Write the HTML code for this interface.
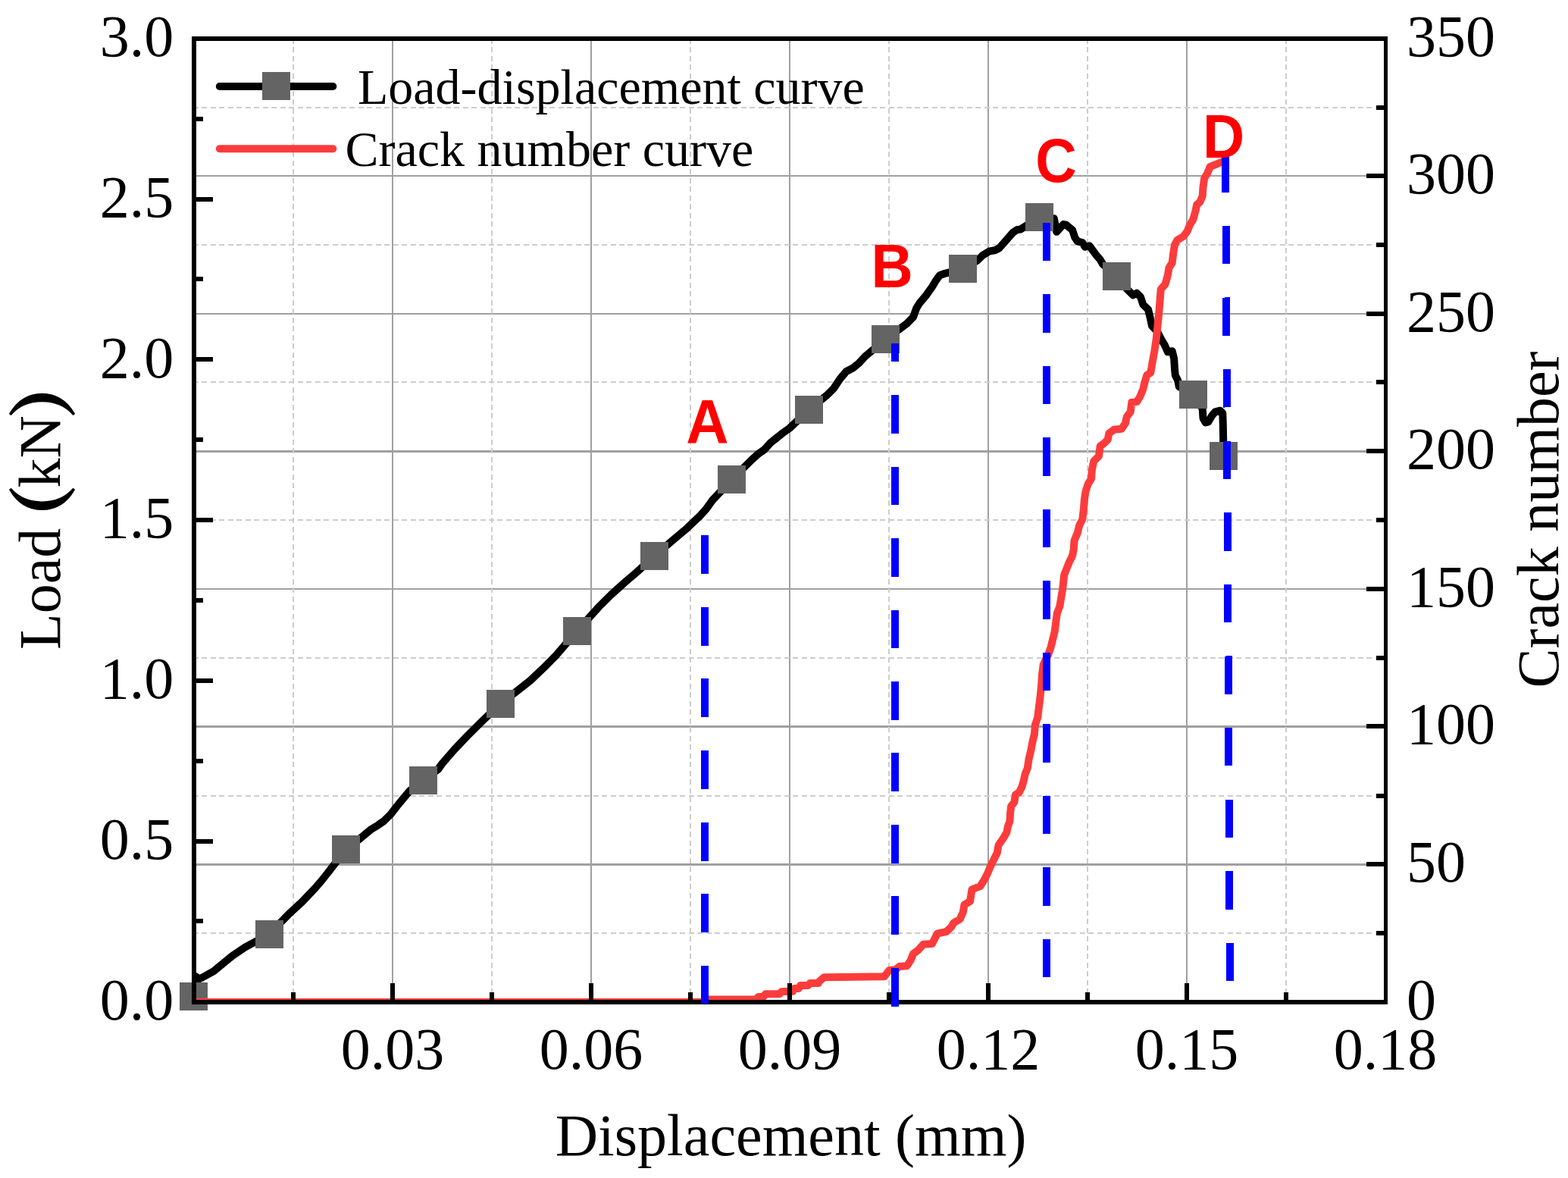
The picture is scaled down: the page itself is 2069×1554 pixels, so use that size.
<!DOCTYPE html>
<html lang="en"><head><meta charset="utf-8"><title>Load-displacement curve and crack number curve</title>
<style>html,body{margin:0;padding:0;background:#fff;overflow:hidden}svg{display:block}text{font-family:"Liberation Serif",serif;fill:#000}.lab{font-family:"Liberation Sans",sans-serif;font-weight:bold;fill:#ff0000}.par{font-family:"Liberation Serif","Noto Serif CJK SC",serif;font-weight:900;stroke:#000;stroke-width:1.6px}</style></head><body>
<svg width="2069" height="1554" viewBox="0 0 2069 1554">
<defs><clipPath id="plot"><rect x="256" y="51" width="1572" height="1271"/></clipPath></defs>
<rect x="0" y="0" width="2069" height="1554" fill="#fff"/>
<g shape-rendering="crispEdges">
<g fill="#a0a0a0">
<rect x="517" y="54" width="2" height="1265"/>
<rect x="779" y="54" width="2" height="1265"/>
<rect x="1041" y="54" width="2" height="1265"/>
<rect x="1303" y="54" width="2" height="1265"/>
<rect x="1565" y="54" width="2" height="1265"/>
<rect x="259" y="1139" width="1567" height="3"/>
<rect x="259" y="957" width="1567" height="3"/>
<rect x="259" y="776" width="1567" height="2"/>
<rect x="259" y="594" width="1567" height="3"/>
<rect x="259" y="413" width="1567" height="2"/>
<rect x="259" y="231" width="1567" height="2"/>
</g>
<g fill="none" stroke="#cdcdcd" stroke-width="2" stroke-dasharray="7 4.47">
<line x1="387" y1="50.5" x2="387" y2="1319" stroke-dasharray="7 4.5"/>
<line x1="649" y1="50.5" x2="649" y2="1319" stroke-dasharray="7 4.5"/>
<line x1="911" y1="50.5" x2="911" y2="1319" stroke-dasharray="7 4.5"/>
<line x1="1173" y1="50.5" x2="1173" y2="1319" stroke-dasharray="7 4.5"/>
<line x1="1435" y1="50.5" x2="1435" y2="1319" stroke-dasharray="7 4.5"/>
<line x1="1697" y1="50.5" x2="1697" y2="1319" stroke-dasharray="7 4.5"/>
<line x1="255" y1="1231" x2="1826" y2="1231"/>
<line x1="255" y1="1050" x2="1826" y2="1050"/>
<line x1="255" y1="868" x2="1826" y2="868"/>
<line x1="255" y1="686" x2="1826" y2="686"/>
<line x1="255" y1="504" x2="1826" y2="504"/>
<line x1="255" y1="323" x2="1826" y2="323"/>
<line x1="255" y1="142" x2="1826" y2="142"/>
</g>
</g>
<polyline points="258.0,1315.0 258.0,1288.0 262.5,1291.5 266.0,1290.0 281.7,1281.3 306.7,1260.8 323.3,1249.7 355.3,1232.3 381.7,1205.3 398.3,1190.0 415.0,1172.5 423.3,1163.0 431.7,1152.5 440.0,1141.7 456.3,1120.4 475.1,1106.2 490.2,1093.7 498.6,1088.7 506.9,1082.8 515.3,1074.5 523.7,1063.6 532.0,1053.5 540.4,1043.5 558.4,1029.4 578.0,1015.0 583.3,1007.5 600.0,988.3 616.7,970.8 633.3,954.2 660.4,928.4 683.3,910.8 700.0,897.5 716.7,881.7 733.3,865.0 761.3,832.6 790.0,800.8 806.7,784.2 823.3,769.2 840.0,755.0 863.5,733.4 890.0,710.8 906.7,696.7 923.3,680.8 931.7,671.7 940.0,660.0 965.3,633.0 991.7,606.7 1000.0,599.2 1008.3,593.3 1016.7,584.2 1025.0,577.5 1033.3,570.8 1041.7,565.0 1067.1,540.9 1091.7,520.8 1100.0,512.5 1108.3,500.0 1116.7,490.0 1125.0,485.8 1133.3,479.2 1141.7,470.0 1168.3,447.8 1186.7,434.2 1196.7,426.7 1205.0,418.3 1209.2,406.7 1213.3,400.0 1221.7,390.0 1230.0,378.3 1235.0,370.0 1240.0,363.3 1246.7,360.8 1270.0,354.8 1290.0,343.3 1296.7,336.7 1305.0,331.7 1313.3,330.0 1318.3,327.5 1325.0,320.0 1330.0,314.2 1336.7,306.7 1341.7,303.3 1346.7,302.5 1353.3,298.3 1371.7,286.8 1390.8,288.3 1394.2,305.8 1403.3,295.8 1406.7,296.7 1415.0,303.3 1418.3,313.3 1421.7,318.3 1428.3,320.0 1431.7,325.8 1437.5,324.2 1441.7,330.0 1446.7,336.7 1451.7,342.5 1455.0,348.3 1473.3,364.8 1486.3,380.5 1495.0,389.3 1500.0,386.7 1505.0,391.7 1508.3,401.7 1515.0,408.3 1517.5,418.3 1520.0,430.0 1526.7,436.7 1531.7,446.7 1536.7,455.0 1540.8,464.2 1546.7,463.3 1549.2,473.3 1550.0,486.7 1550.8,495.0 1554.2,501.7 1555.8,510.0 1574.9,520.3 1586.7,539.2 1587.5,551.7 1590.8,557.5 1594.2,556.7 1599.2,548.3 1603.3,543.3 1610.0,541.7 1613.3,545.0 1613.8,560.0 1614.2,581.7 1614.5,601.3" fill="none" stroke="#000" stroke-width="10" stroke-linejoin="round" stroke-linecap="round"/>
<g fill="#646464" shape-rendering="crispEdges">
<rect x="237" y="1296" width="37" height="37"/>
<rect x="337" y="1214" width="37" height="37"/>
<rect x="438" y="1102" width="37" height="37"/>
<rect x="540" y="1011" width="37" height="37"/>
<rect x="642" y="910" width="37" height="37"/>
<rect x="743" y="814" width="37" height="37"/>
<rect x="845" y="715" width="37" height="37"/>
<rect x="947" y="614" width="37" height="37"/>
<rect x="1049" y="522" width="37" height="37"/>
<rect x="1150" y="429" width="37" height="37"/>
<rect x="1252" y="336" width="37" height="37"/>
<rect x="1353" y="268" width="37" height="37"/>
<rect x="1455" y="346" width="37" height="37"/>
<rect x="1556" y="502" width="37" height="37"/>
<rect x="1596" y="583" width="37" height="37"/>
</g>
<polyline points="256.0,1322.0 929.0,1322.0 932.0,1318.6 997.6,1318.6 1000.5,1315.1 1007.3,1315.1 1010.2,1311.2 1028.6,1311.2 1031.5,1308.0 1046.0,1308.0 1047.9,1304.1 1053.7,1304.1 1056.1,1300.0 1066.3,1300.0 1068.7,1297.1 1079.8,1297.1 1081.7,1294.0 1087.5,1289.2 1166.7,1288.3 1173.3,1280.0 1181.7,1279.2 1186.7,1275.0 1196.7,1274.2 1201.7,1266.7 1205.0,1258.3 1211.7,1253.3 1218.3,1245.8 1230.0,1245.0 1236.7,1231.7 1248.3,1229.2 1255.0,1223.3 1258.3,1217.5 1266.7,1212.5 1270.8,1203.3 1272.5,1193.3 1280.0,1189.2 1282.5,1173.3 1293.3,1169.2 1299.2,1160.0 1303.3,1151.7 1306.7,1143.3 1311.7,1133.3 1315.8,1125.0 1317.5,1115.0 1323.3,1106.7 1328.3,1098.3 1330.0,1090.0 1332.5,1083.3 1333.0,1073.3 1334.2,1063.3 1338.3,1058.3 1340.0,1048.3 1345.0,1045.0 1348.3,1038.3 1350.8,1030.0 1352.5,1021.7 1355.8,1013.3 1357.5,1001.7 1360.3,990.0 1362.5,978.3 1365.0,968.3 1365.8,956.7 1369.2,946.7 1370.8,933.3 1372.5,920.0 1374.2,903.3 1375.0,890.0 1376.7,876.7 1383.3,863.3 1386.7,853.3 1390.0,840.0 1391.7,833.3 1393.3,820.0 1395.0,808.3 1398.3,800.0 1400.0,790.0 1401.7,780.0 1403.0,770.0 1404.2,758.3 1407.5,750.0 1410.8,741.7 1415.0,733.3 1416.7,725.0 1417.5,713.3 1421.7,703.3 1424.2,693.3 1428.3,685.0 1429.7,673.3 1430.8,660.0 1432.5,648.3 1435.8,638.3 1440.0,631.7 1440.8,620.0 1443.3,608.3 1450.0,601.7 1451.7,588.3 1456.7,585.0 1461.7,580.0 1463.3,571.7 1470.0,566.7 1480.0,565.8 1485.0,558.3 1486.7,550.0 1491.7,543.3 1493.3,530.8 1500.0,530.0 1504.2,523.3 1508.3,513.3 1510.8,503.3 1513.3,495.0 1518.3,491.7 1520.8,476.7 1523.3,463.3 1525.8,446.7 1527.5,430.0 1529.2,413.3 1530.8,393.3 1531.7,381.7 1537.5,375.0 1540.8,363.3 1542.5,353.3 1546.7,346.7 1548.3,333.3 1550.0,323.3 1553.3,316.7 1561.7,311.7 1566.7,305.0 1570.0,296.7 1574.2,290.0 1577.5,278.3 1579.2,270.0 1583.3,266.7 1586.7,258.3 1587.5,246.7 1589.2,235.0 1593.3,228.3 1596.7,220.0 1605.0,216.7 1614.0,213.0" fill="none" stroke="#fc3c3c" stroke-width="10" stroke-linejoin="round" stroke-linecap="butt" clip-path="url(#plot)"/>
<g fill="#000" shape-rendering="crispEdges"><rect x="253" y="48" width="6" height="1277"/><rect x="1826" y="48" width="5" height="1277"/><rect x="253" y="48" width="1578" height="6"/><rect x="253" y="1319" width="1578" height="6"/></g>
<g fill="#000" shape-rendering="crispEdges">
<rect x="384" y="1309" width="6" height="11"/>
<rect x="515" y="1297" width="6" height="23"/>
<rect x="646" y="1309" width="6" height="11"/>
<rect x="777" y="1297" width="6" height="23"/>
<rect x="908" y="1309" width="6" height="11"/>
<rect x="1039" y="1297" width="6" height="23"/>
<rect x="1170" y="1309" width="6" height="11"/>
<rect x="1301" y="1297" width="6" height="23"/>
<rect x="1432" y="1309" width="6" height="11"/>
<rect x="1563" y="1297" width="6" height="23"/>
<rect x="1694" y="1309" width="6" height="11"/>
<rect x="258" y="1212" width="10" height="6"/>
<rect x="258" y="1107" width="23" height="6"/>
<rect x="258" y="1001" width="10" height="6"/>
<rect x="258" y="895" width="23" height="6"/>
<rect x="258" y="789" width="10" height="6"/>
<rect x="258" y="683" width="23" height="6"/>
<rect x="258" y="577" width="10" height="6"/>
<rect x="258" y="471" width="23" height="6"/>
<rect x="258" y="365" width="10" height="6"/>
<rect x="258" y="260" width="23" height="6"/>
<rect x="258" y="154" width="10" height="6"/>
<rect x="1816" y="1228" width="11" height="6"/>
<rect x="1803" y="1137" width="24" height="6"/>
<rect x="1816" y="1047" width="11" height="6"/>
<rect x="1803" y="955" width="24" height="6"/>
<rect x="1816" y="865" width="11" height="6"/>
<rect x="1803" y="774" width="24" height="6"/>
<rect x="1816" y="683" width="11" height="6"/>
<rect x="1803" y="592" width="24" height="6"/>
<rect x="1816" y="501" width="11" height="6"/>
<rect x="1803" y="411" width="24" height="6"/>
<rect x="1816" y="320" width="11" height="6"/>
<rect x="1803" y="229" width="24" height="6"/>
<rect x="1816" y="139" width="11" height="6"/>
</g>
<g stroke="#0000ff" stroke-width="10" fill="none" shape-rendering="crispEdges">
<line x1="930" y1="706" x2="930" y2="1323.8" stroke-dasharray="51 43.67" stroke-dashoffset="0"/>
<line x1="1181" y1="452.5" x2="1181" y2="1327.8" stroke-dasharray="50.7 43.75" stroke-dashoffset="25.75"/>
<line x1="1381" y1="293.8" x2="1381" y2="1289.8" stroke-dasharray="50.5 44" stroke-dashoffset="0"/>
<line x1="1617" y1="203.3" x2="1623" y2="1293.8" stroke-dasharray="50.4 44.2" stroke-dashoffset="0"/>
</g>
<g font-size="78">
<text x="229.2" y="1344.7" text-anchor="end">0.0</text>
<text x="229.2" y="1132.9" text-anchor="end">0.5</text>
<text x="229.2" y="921.1" text-anchor="end">1.0</text>
<text x="229.2" y="709.4" text-anchor="end">1.5</text>
<text x="229.2" y="497.6" text-anchor="end">2.0</text>
<text x="229.2" y="285.9" text-anchor="end">2.5</text>
<text x="229.2" y="74.2" text-anchor="end">3.0</text>
<text x="1856" y="1344.7" text-anchor="start">0</text>
<text x="1856" y="1162.9" text-anchor="start">50</text>
<text x="1856" y="980.9" text-anchor="start">100</text>
<text x="1856" y="799.9" text-anchor="start">150</text>
<text x="1856" y="617.9" text-anchor="start">200</text>
<text x="1856" y="436.9" text-anchor="start">250</text>
<text x="1856" y="254.9" text-anchor="start">300</text>
<text x="1856" y="74.2" text-anchor="start">350</text>
<text x="518.0" y="1409.6" text-anchor="middle">0.03</text>
<text x="780.0" y="1409.6" text-anchor="middle">0.06</text>
<text x="1042.0" y="1409.6" text-anchor="middle">0.09</text>
<text x="1304.0" y="1409.6" text-anchor="middle">0.12</text>
<text x="1566.0" y="1409.6" text-anchor="middle">0.15</text>
<text x="1828.0" y="1409.6" text-anchor="middle">0.18</text>
</g>
<text x="1043.6" y="1523.5" font-size="78" text-anchor="middle">Displacement (mm)</text>
<text transform="translate(79,0) rotate(-90)" font-size="78"><tspan x="-857" y="0">Load</tspan><tspan class="par" x="-729.2" y="10.5" font-size="89.5">（</tspan><tspan x="-643.5" y="0">kN</tspan><tspan class="par" x="-552" y="10.5" font-size="89.5">）</tspan></text>
<text transform="translate(2056,685.5) rotate(-90)" font-size="78" text-anchor="middle">Crack number</text>
<line x1="289.8" y1="114" x2="439.3" y2="114" stroke="#000" stroke-width="10" stroke-linecap="round"/>
<rect x="346" y="95" width="37" height="37" fill="#646464" shape-rendering="crispEdges"/>
<line x1="289.8" y1="196.2" x2="439.3" y2="196.2" stroke="#fc3c3c" stroke-width="10" stroke-linecap="round"/>
<text x="472" y="137" font-size="66">Load-displacement curve</text>
<text x="455.5" y="219.2" font-size="66">Crack number curve</text>
<text class="lab" transform="translate(933.3,583.8) scale(1.0,1.036)" font-size="78" text-anchor="middle">A</text>
<text class="lab" transform="translate(1177.0,378.8) scale(0.98,1.036)" font-size="78" text-anchor="middle">B</text>
<text class="lab" transform="translate(1393.6,239.8) scale(0.967,1.036)" font-size="78" text-anchor="middle">C</text>
<text class="lab" transform="translate(1614.5,208) scale(0.98,1.036)" font-size="78" text-anchor="middle">D</text>
</svg></body></html>
